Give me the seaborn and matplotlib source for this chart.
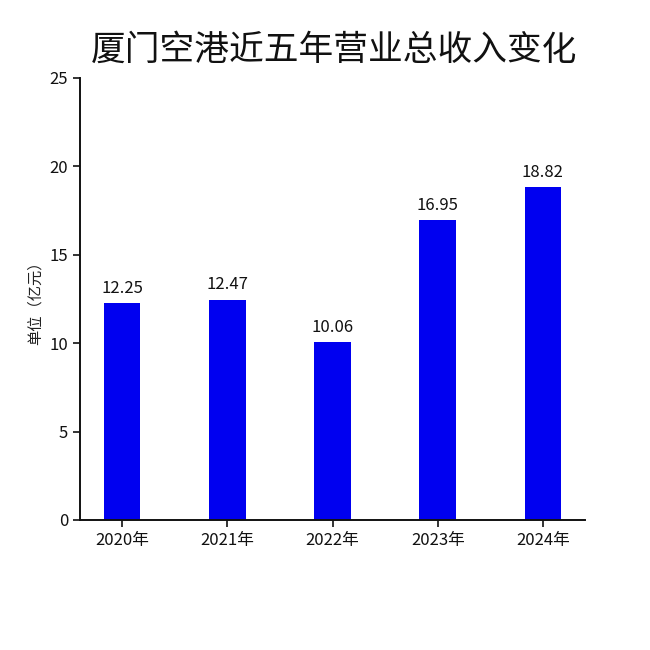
import pandas as pd
import matplotlib.pyplot as plt
import seaborn as sns

years = ['2020年', '2021年', '2022年', '2023年', '2024年']
revenue = [12.25, 12.47, 10.06, 16.95, 18.82]
y_ticks = [0, 5, 10, 15, 20, 25]

data = pd.DataFrame({'year': years, 'revenue': revenue})

sns.set_style('ticks')
plt.rcParams['font.family'] = ['Noto Sans CJK SC', 'DejaVu Sans']

fig = plt.figure(figsize=(6.5, 6.5), dpi=100)
ax = fig.add_axes([80 / 650, 130 / 650, 505 / 650, 442 / 650])

sns.barplot(x='year', y='revenue', data=data, color='#0000f0', width=0.35,
            saturation=1, ax=ax, linewidth=0)

# 柱顶数值
for p, v in zip(ax.patches, revenue):
    ax.annotate(f'{v:.2f}', (p.get_x() + p.get_width() / 2., v + 0.35),
                ha='center', va='bottom', fontsize=12, color='#111111')

ax.set_xlim(-0.4, 4.4)
ax.set_ylim(0, 25)
ax.set_yticks(y_ticks)
ax.set_xlabel('')
ax.set_ylabel('单位（亿元）', fontsize=11, color='#222222', labelpad=4)
ax.tick_params(axis='both', labelsize=12, colors='#111111', length=5, width=1.2)
sns.despine(ax=ax)
for s in ['left', 'bottom']:
    ax.spines[s].set_linewidth(1.4)
    ax.spines[s].set_color('#111111')

fig.text(334 / 650, 1 - 50 / 650, '厦门空港近五年营业总收入变化', ha='center', va='center',
         fontsize=25, color='#111111')

fig.savefig('out.png', dpi=100, facecolor='white')
